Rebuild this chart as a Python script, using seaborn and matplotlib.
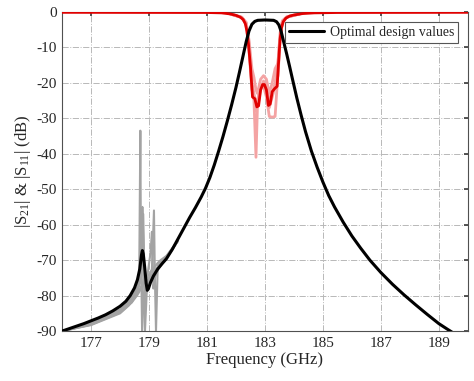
import numpy as np
import pandas as pd
import matplotlib
matplotlib.use('Agg')
import matplotlib.pyplot as plt
import seaborn as sns

# optimal design |S21| (dB)
s21_freq = [176.0, 176.25, 176.5, 176.75, 177.0, 177.25, 177.5, 177.75, 178.0, 178.2,
            178.35, 178.5, 178.6, 178.68, 178.74, 178.77, 178.8, 178.85, 178.9, 178.94,
            178.98, 179.05, 179.15, 179.3, 179.45, 179.6, 179.8, 180.0, 180.2, 180.4,
            180.6, 180.8, 180.95, 181.1, 181.25, 181.4, 181.55, 181.7, 181.85, 182.0,
            182.12, 182.25, 182.35, 182.45, 182.55, 182.65, 182.75, 183.0, 183.3, 183.4,
            183.48, 183.56, 183.65, 183.75, 183.85, 183.95, 184.1, 184.25, 184.4, 184.6,
            184.8, 185.0, 185.2, 185.4, 185.7, 186.0, 186.3, 186.62, 187.0, 187.4,
            187.8, 188.2, 188.6, 189.0, 189.3, 189.55]
s21_db = [-90.0, -89.3, -88.6, -87.9, -87.1, -86.3, -85.4, -84.3, -83.0, -81.6,
          -80.0, -77.8, -75.5, -72.5, -68.5, -67.3, -68.2, -72.0, -76.5, -78.5,
          -78.0, -76.3, -74.5, -72.5, -71.0, -69.6, -67.0, -64.0, -61.0, -58.0,
          -55.2, -52.2, -49.7, -46.7, -43.2, -39.3, -35.2, -30.8, -26.2, -21.3,
          -17.0, -12.2, -8.5, -5.4, -3.5, -2.7, -2.4, -2.3, -2.4, -2.8,
          -3.7, -5.6, -8.6, -11.9, -15.4, -19.0, -24.3, -29.2, -33.8, -39.2,
          -43.8, -48.0, -51.8, -55.0, -59.3, -63.2, -66.6, -70.0, -73.5, -76.8,
          -79.8, -82.6, -85.3, -87.9, -89.5, -90.8]

# optimal design |S11| (dB)
s11_freq = [176.0, 181.0, 181.5, 181.8, 182.0, 182.15, 182.25, 182.32, 182.38, 182.43,
            182.5, 182.57, 182.65, 182.72, 182.78, 182.85, 182.92, 182.98, 183.05, 183.12,
            183.18, 183.25, 183.34, 183.42, 183.46, 183.52, 183.57, 183.63, 183.72, 183.85,
            184.0, 184.3, 184.7, 185.5, 190.0]
s11_db = [-0.15, -0.2, -0.3, -0.6, -1.0, -1.5, -2.2, -3.3, -5.5, -9.0,
          -15.5, -24.0, -24.5, -26.8, -26.5, -22.0, -20.5, -20.5, -22.0, -26.4,
          -26.0, -22.5, -21.6, -21.0, -15.5, -7.9, -4.5, -2.8, -1.8, -1.2,
          -0.9, -0.5, -0.3, -0.2, -0.15]

# tolerance runs of |S11| near the passband
s11_var_freq = [181.8, 182.2, 182.35, 182.45, 182.55, 182.62, 182.69, 182.74, 182.85, 182.95,
                183.05, 183.15, 183.25, 183.35, 183.45, 183.52, 183.6, 183.75, 184.2]
s11_var = [
    [-0.6, -1.6, -3.5, -10, -21, -25, -41, -27, -22, -19.5, -21, -25, -23, -20, -14, -7, -3, -1.5, -0.6],
    [-0.6, -1.6, -3.0, -9, -20, -23, -26, -25, -21, -21, -24, -29.5, -29.7, -29.5, -17, -7.5, -3, -1.5, -0.6],
    [-0.6, -1.5, -3.0, -8, -16, -18.5, -22, -23, -19, -18, -19, -23, -20, -16, -14.5, -6, -2.5, -1.4, -0.6],
    [-0.6, -1.6, -3.5, -11, -22, -24, -28, -26, -21, -20, -22, -27, -24, -21, -18, -8, -3, -1.5, -0.6],
]

# tolerance runs of |S21| around the spurious resonance
s21_var_freq = [
    [176.0, 177.0, 178.0, 178.4, 178.6, 178.66, 178.7, 178.72, 178.76, 178.82, 178.9, 179.0, 179.2, 179.5, 180.0],
    [176.0, 177.0, 178.0, 178.4, 178.6, 178.72, 178.77, 178.8, 178.86, 178.92, 179.0, 179.1, 179.2, 179.5, 180.0],
    [176.0, 177.0, 178.0, 178.4, 178.6, 178.74, 178.8, 178.83, 178.87, 178.95, 179.05, 179.15, 179.3, 179.5, 180.0],
    [176.0, 177.0, 178.0, 178.4, 178.6, 178.8, 179.0, 179.1, 179.17, 179.2, 179.24, 179.3, 179.4, 179.6, 180.0],
    [176.0, 177.0, 178.0, 178.4, 178.55, 178.65, 178.7, 178.74, 178.78, 178.85, 178.95, 179.1, 179.3, 179.6, 180.0],
    [176.0, 177.0, 178.0, 178.4, 178.6, 178.8, 178.95, 179.05, 179.1, 179.15, 179.2, 179.3, 179.4, 179.6, 180.0],
    [176.0, 177.0, 178.0, 178.3, 178.5, 178.65, 178.8, 178.9, 179.0, 179.1, 179.2, 179.3, 179.4, 179.6, 180.0],
]
s21_var_db = [
    [-90, -87.8, -84.3, -80.8, -77.8, -75.0, -33.5, -66, -90, -80, -77, -75.5, -73, -70.3, -64.5],
    [-90, -88.0, -84.6, -81.5, -78.8, -75.5, -55, -64, -90, -79, -76.5, -74.8, -73.5, -70.5, -64.5],
    [-90, -87.5, -83.9, -80.5, -77.8, -74.5, -57, -70, -80, -78, -75.5, -74, -72, -70.3, -64.5],
    [-90, -88.2, -84.8, -82.0, -79.8, -77.0, -75.0, -72.5, -56, -74, -90, -71.5, -70.5, -69, -64.5],
    [-90, -87.9, -84.2, -81.0, -78.8, -76.5, -71.5, -74, -80, -79, -76.5, -74, -72, -69.5, -64.5],
    [-90, -88.1, -84.6, -81.8, -79.2, -76.8, -74.0, -68, -62, -78, -75, -72.8, -71.5, -69.5, -64.5],
    [-90, -88.3, -85.0, -82.8, -80.5, -78.5, -76.5, -75.2, -74.0, -72.8, -71.8, -70.8, -70.0, -68.8, -64.5],
]

sns.set_theme(style='white')
plt.rcParams['font.family'] = ['Liberation Serif', 'DejaVu Serif']
plt.rcParams['mathtext.fontset'] = 'custom'
plt.rcParams['mathtext.rm'] = 'Liberation Serif'
plt.rcParams['mathtext.it'] = 'Liberation Serif:italic'
plt.rcParams['axes.unicode_minus'] = False

fig = plt.figure(figsize=(4.74, 3.81), dpi=100)
ax = fig.add_axes([0.131, 0.131, 0.856, 0.838])

# tolerance analysis curves first, behind the nominal response
for f, v in zip(s21_var_freq, s21_var_db):
    sns.lineplot(x=f, y=v, ax=ax, color='#a3a3a3', linewidth=1.5, sort=False)
for v in s11_var:
    sns.lineplot(x=s11_var_freq, y=v, ax=ax, color='#f4a3a3', linewidth=2.0, sort=False)

sns.lineplot(x=s11_freq, y=s11_db, ax=ax, color='#e00000', linewidth=2.0, sort=False,
             zorder=3)
sns.lineplot(x=s21_freq, y=s21_db, ax=ax, color='black', linewidth=2.2, sort=False,
             label='Optimal design values', zorder=3)

ax.set_xlim(176, 190)
ax.set_ylim(-90, 0)
ax.set_xticks(np.arange(177, 190, 2))
ax.set_yticks(np.arange(-90, 1, 10))
ax.grid(True, color='#b8b8b8', linestyle='-.', linewidth=0.7)
ax.tick_params(direction='in', top=True, right=True, labelsize=11, length=3,
               color='#404040', pad=4)
for sp in ax.spines.values():
    sp.set_color('#505050')
    sp.set_linewidth(0.8)

ax.set_xlabel('Frequency (GHz)', fontsize=12, labelpad=2)
ax.set_ylabel('|S$_{21}$| & |S$_{11}$| (dB)', fontsize=12, labelpad=2)

leg = ax.legend(loc='upper right', fontsize=10, fancybox=False, framealpha=1,
                edgecolor='#555555', borderaxespad=0.7, handlelength=2.5,
                borderpad=0.3, handletextpad=0.4)
leg.get_frame().set_linewidth(0.8)
leg.set_zorder(5)

fig.savefig('out.png', dpi=100)
